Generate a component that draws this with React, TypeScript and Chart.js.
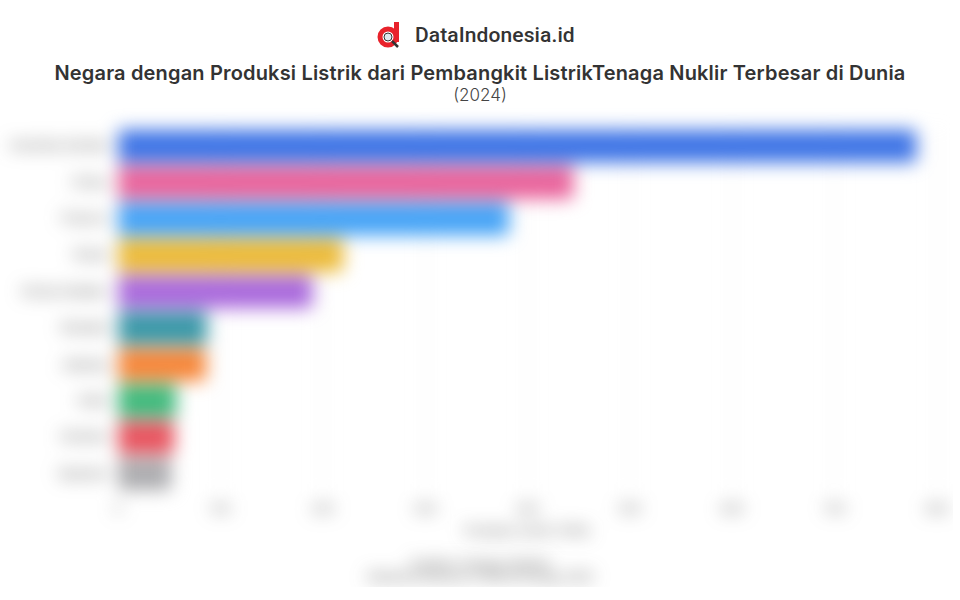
import { useEffect, useRef } from "react"
import { Chart, registerables } from "chart.js"

Chart.register(...registerables)

// labels in the reference are blurred out, so names and values are estimates
const countries = [
  "Amerika Serikat",
  "China",
  "Prancis",
  "Rusia",
  "Korea Selatan",
  "Kanada",
  "Jepang",
  "India",
  "Ukraina",
  "Spanyol",
]
const production = [780, 445, 382, 220, 190, 87, 86, 57, 55, 52]
const barColors = [
  "#3f75e6",
  "#e9649c",
  "#47a4f6",
  "#ecbb3a",
  "#aa6adc",
  "#3a98a8",
  "#f6873a",
  "#40ba7c",
  "#e8545f",
  "#adadb0",
]
const axisTitle = "Produksi Listrik (TWh)"
const footer = ["Sumber: Energy Institute", "Statistical Review of World Energy 2025"]
const font = "Inter, 'Noto Sans', sans-serif"

export default function App() {
  const chartRef = useRef<HTMLCanvasElement | null>(null)

  useEffect(() => {
    if (!chartRef.current) return
    const chart = new Chart(chartRef.current, {
      type: "bar",
      data: {
        labels: countries,
        datasets: [
          {
            data: production,
            backgroundColor: barColors,
            borderRadius: 4,
            barPercentage: 0.9,
            categoryPercentage: 1,
          },
        ],
      },
      options: {
        indexAxis: "y",
        animation: false,
        responsive: false,
        layout: { padding: { top: 20, right: 23, bottom: 48 } },
        plugins: {
          legend: { display: false },
          tooltip: { enabled: false },
        },
        scales: {
          x: {
            min: 0,
            max: 800,
            ticks: { stepSize: 100, color: "#555", font: { family: font, size: 12 }, maxRotation: 0, padding: 10 },
            grid: { color: "#e4e4e4", drawTicks: false },
            border: { display: false },
            title: {
              display: true,
              text: axisTitle,
              color: "#444",
              font: { family: font, size: 12 },
              padding: { top: 4, bottom: 0 },
            },
            afterFit: (scale) => {
              scale.height = 47
            },
          },
          y: {
            ticks: { color: "#555", font: { family: font, size: 13 }, autoSkip: false },
            grid: { display: false },
            border: { display: false },
            afterFit: (scale) => {
              scale.width = 118
            },
          },
        },
      },
    })
    return () => chart.destroy()
  }, [])

  return (
    <div style={{ position: "fixed", left: 0, top: 0, width: 960, height: 600, background: "#fff", overflow: "hidden", fontFamily: font }}>
      <svg width="26" height="30" viewBox="0 0 26 30" style={{ position: "absolute", left: 377, top: 20 }}>
        <circle cx="11" cy="17" r="8" fill="none" stroke="#e8222b" strokeWidth="5" />
        <rect x="17" y="2" width="5" height="20" fill="#e8222b" />
        <circle cx="11" cy="17" r="4" fill="#dfe8ee" stroke="#333" strokeWidth="1" />
        <line x1="15" y1="21" x2="21" y2="27" stroke="#333" strokeWidth="2.5" />
      </svg>
      <div style={{ position: "absolute", left: 415, top: 21, fontSize: 21, fontWeight: 500, letterSpacing: 0.1, color: "#333", lineHeight: "28px", fontFamily: "Roboto, sans-serif", whiteSpace: "nowrap" }}>
        DataIndonesia.id
      </div>
      <div style={{ position: "absolute", left: 0, width: 960, top: 60, textAlign: "center", fontSize: 20, fontWeight: 600, letterSpacing: 0.17, color: "#333", lineHeight: "26px", whiteSpace: "nowrap" }}>
        Negara dengan Produksi Listrik dari Pembangkit ListrikTenaga Nuklir Terbesar di Dunia
      </div>
      <div style={{ position: "absolute", left: 0, width: 960, top: 84, textAlign: "center", fontSize: 17, fontWeight: 300, color: "#444", lineHeight: "22px" }}>
        (2024)
      </div>
      <div style={{ position: "absolute", left: 0, top: 108, width: 953, height: 479, overflow: "hidden" }}>
        <canvas ref={chartRef} width={960} height={479} style={{ display: "block", filter: "blur(9px)" }} />
        <div style={{ position: "absolute", left: 0, width: 960, top: 449, textAlign: "center", fontSize: 12, lineHeight: "13px", color: "#444", filter: "blur(9px)" }}>
          {footer.map((line) => (
            <div key={line}>{line}</div>
          ))}
        </div>
      </div>
    </div>
  )
}
